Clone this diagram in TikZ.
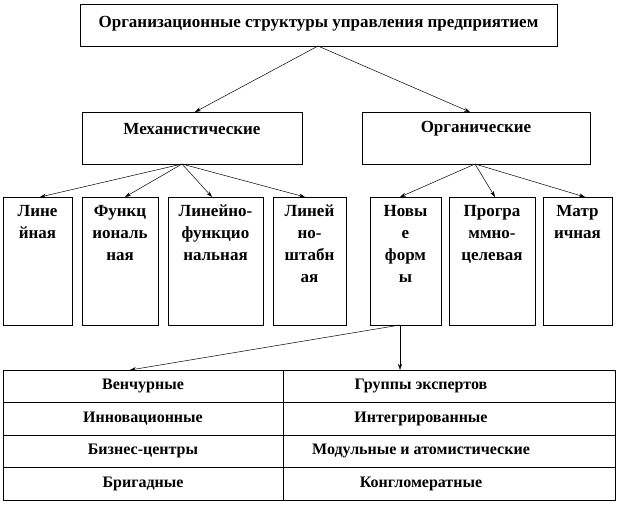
\documentclass[tikz,border=0pt]{standalone}
\usepackage{fontspec}
\setmainfont{Liberation Serif}
\usetikzlibrary{arrows.meta}
\begin{document}
\begin{tikzpicture}[x=1pt,y=-1pt,
  bx/.style={draw,line width=0.6pt,fill=white},
  arr/.style={-{Stealth[length=6pt,width=4pt]},line width=0.5pt},
  hd/.style={font=\bfseries\fontsize{17}{20}\selectfont},
  lt/.style={font=\bfseries\fontsize{17}{22}\selectfont,align=center,anchor=north,inner sep=0pt}]
\useasboundingbox (0,0) rectangle (618,504);
\draw[bx] (80,4) rectangle (557,46);
\node[hd] (top) at (318.5,24) {Организационные структуры управления предприятием};
\coordinate (tb) at (318,46);
\draw[bx] (82,112) rectangle (302,164); \node[hd] (mech) at (192,129) {Механистические};
\draw[bx] (362,112) rectangle (590,164); \node[hd] (org) at (476,129) {Органические};
\draw[arr] (tb) -- (195,112);
\draw[arr] (tb) -- (470,112);
\coordinate (mb) at (182,164); \coordinate (ob) at (475,164);
\foreach \n/\a/\b/\t in {l1/3/72/{Лине\\йная},l2/82/158/{Функц\\иональ\\ная},l3/168/263/{Линейно-\\функцио\\нальная},l4/273/346/{Линей\\но-\\штабн\\ая},l5/370/441/{Новы\\е\\форм\\ы},l6/449/535/{Програ\\ммно-\\целевая},l7/543/612/{Матр\\ичная}}{
  \draw[bx] (\a,197) rectangle (\b,325);
  \node[lt] (\n) at ({(\a+\b)/2},205) {\t};
}
\draw[arr] (mb) -- (40,197);
\draw[arr] (mb) -- (125,197);
\draw[arr] (mb) -- (212,197);
\draw[arr] (mb) -- (305,197);
\draw[arr] (ob) -- (400,197);
\draw[arr] (ob) -- (495,197);
\draw[arr] (ob) -- (585,197);
\coordinate (nb) at (400,325);
\draw[arr] (nb) -- (130,370);
\draw[arr] (nb) -- (400,370);
\draw[line width=0.6pt] (3,370) rectangle (615,500);
\foreach \y in {402.5,435,467.5} \draw[line width=0.6pt] (3,\y) -- (615,\y);
\draw[line width=0.6pt] (283,370) -- (283,500);
\foreach \i/\l/\r in {0/Венчурные/Группы экспертов,1/Инновационные/Интегрированные,2/Бизнес-центры/Модульные и атомистические,3/Бригадные/Конгломератные}{
  \node[font=\bfseries\fontsize{16}{19}\selectfont] (tl\i) at (143,{386.25+32.5*\i}) {\l};
  \node[font=\bfseries\fontsize{16}{19}\selectfont] (tr\i) at (421,{386.25+32.5*\i}) {\r};
}
\end{tikzpicture}
\end{document}
